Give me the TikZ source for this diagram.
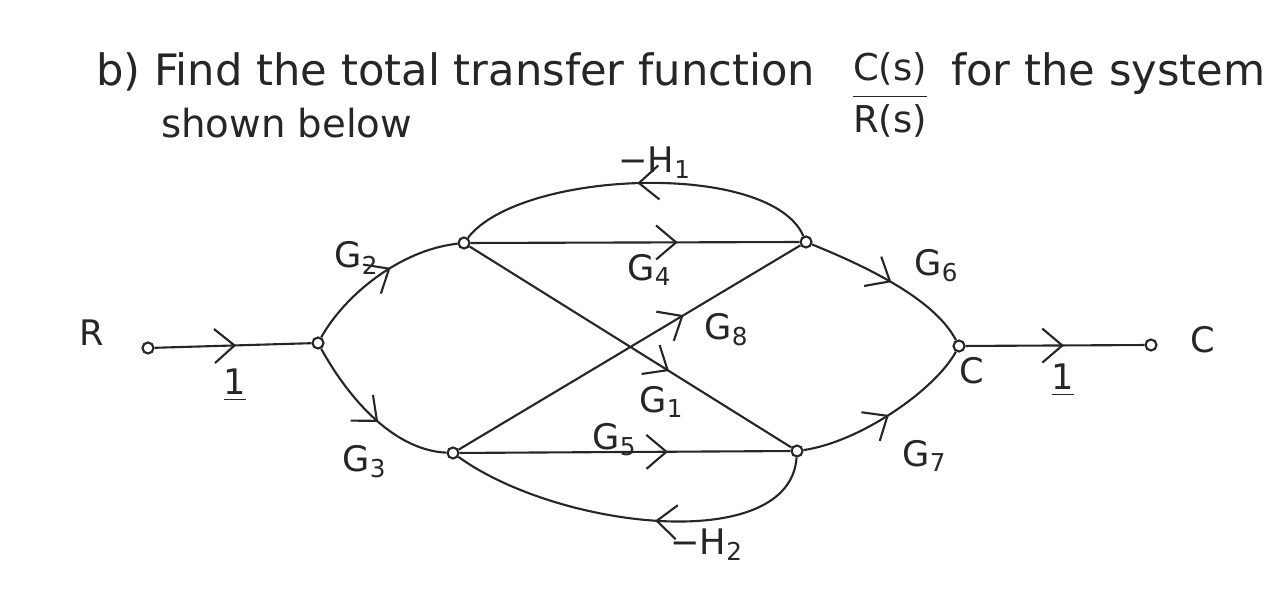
\documentclass[tikz,border=0pt]{standalone}
\usepackage{fontspec}
\setmainfont{DejaVu Sans}
\usepackage{tikz}
\usetikzlibrary{arrows.meta,decorations.markings}

\begin{document}
\begin{tikzpicture}[x=0.01cm,y=-0.01cm,line width=0.6pt,draw=black!85,
                    dot/.style={circle,draw,fill=white,inner sep=0pt,minimum size=0.11cm},
                    gain/.style={font=\fontsize{10}{12}\selectfont,text=black!85},
                    title/.style={font=\fontsize{12.3}{14}\selectfont,text=black!85,inner sep=0pt},
                    flow/.style={postaction={decorate},decoration={markings,
                      mark=at position #1 with {\arrow{Straight Barb[length=2mm,width=3.4mm]}}}},
                    flow/.default=0.5]
  \useasboundingbox (0,0) rectangle (1280,592);

  % question
  \node[title,anchor=base west] (q1) at (95,86) {b) Find the total transfer function};
  \node[title,font=\fontsize{10.5}{12}\selectfont] (frac) at (890,95) {$\displaystyle\frac{\mbox{C(s)}}{\mbox{R(s)}}$};
  \node[title,anchor=base west] (q2) at (950,86) {for the system};
  \node[title,anchor=base west,font=\fontsize{11}{13}\selectfont] (q3) at (160,138) {shown below};

  % graph nodes
  \node[dot] (r) at (148,348) {};
  \node[dot] (a) at (318,343) {};
  \node[dot] (b) at (464,243) {};
  \node[dot] (c) at (806,242) {};
  \node[dot] (d) at (453,453) {};
  \node[dot] (e) at (797,451) {};
  \node[dot] (f) at (959,346) {};
  \node[dot] (g) at (1151,345) {};

  % straight branches
  \path (r) edge[flow=0.52] (a)
        (b) edge[flow=0.63] (c)
        (b) edge[flow=0.62] (e)
        (d) edge[flow=0.66] (c)
        (d) edge[flow=0.63] (e)
        (f) edge[flow=0.55] (g);

  % curved branches
  \draw[flow=0.58] (a) .. controls (345,295) and (400,250) .. (b);
  \draw[flow=0.55] (a) .. controls (345,392) and (390,450) .. (d);
  \draw[flow=0.5] (c) .. controls (770,160) and (520,170) .. (b);
  \draw[flow=0.45] (e) .. controls (790,555) and (560,530) .. (d);
  \draw[flow=0.5] (c) .. controls (870,268) and (935,300) .. (f);
  \draw[flow=0.5] (e) .. controls (860,442) and (935,390) .. (f);

  % labels
  \node[gain] (lR) at (92,333) {R};
  \node[gain] (l1a) at (235,385) {\underline{1}};
  \node[gain] (lG2) at (357,258) {G\textsubscript{2}};
  \node[gain] (lG3) at (365,462) {G\textsubscript{3}};
  \node[gain] (lH1) at (655,163) {−H\textsubscript{1}};
  \node[gain] (lG4) at (650,270) {G\textsubscript{4}};
  \node[gain] (lG8) at (727,330) {G\textsubscript{8}};
  \node[gain] (lG1) at (662,402) {G\textsubscript{1}};
  \node[gain] (lG5) at (615,440) {G\textsubscript{5}};
  \node[gain] (lH2) at (707,545) {−H\textsubscript{2}};
  \node[gain] (lG6) at (937,266) {G\textsubscript{6}};
  \node[gain] (lG7) at (925,456) {G\textsubscript{7}};
  \node[gain] (lCf) at (972,371) {C};
  \node[gain] (l1b) at (1063,380) {\underline{1}};
  \node[gain] (lC) at (1203,340) {C};
\end{tikzpicture}
\end{document}
